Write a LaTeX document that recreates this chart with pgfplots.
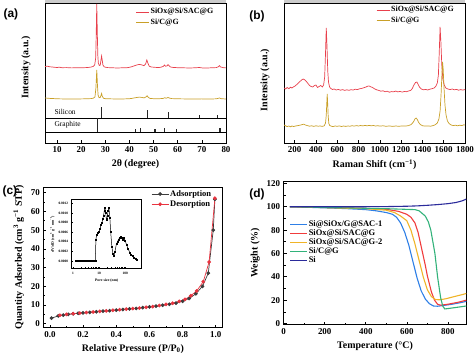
\documentclass[border=0pt]{standalone}
\usepackage{pgfplots}
\pgfplotsset{compat=1.18}
\usepackage{fontspec}
\setmainfont{Liberation Serif}
\newfontfamily\panelfont{Liberation Sans}
\definecolor{xred}{RGB}{232,64,76}
\definecolor{xyel}{RGB}{201,160,40}
\definecolor{dblue}{RGB}{46,127,230}
\definecolor{dred}{RGB}{240,60,60}
\definecolor{dorange}{RGB}{240,180,40}
\definecolor{dgreen}{RGB}{50,178,122}
\definecolor{dnavy}{RGB}{43,43,155}
\definecolor{cblack}{RGB}{60,60,60}
\definecolor{cred}{RGB}{232,51,63}
\pgfplotsset{
  myax/.style={scale only axis, anchor=south west,
    axis line style={line width=0.8bp},
    tick align=inside, major tick length=3bp, minor tick length=1.8bp,
    tick style={line width=0.6bp, black},
    xtick pos=bottom, ytick pos=left,
    /pgf/number format/assume math mode=true,
    /pgf/number format/1000 sep={},
    tick label style={font=\bfseries\fontsize{9}{9}\selectfont},
    label style={font=\bfseries\fontsize{10}{10}\selectfont},
  },
  shortleg/.style={legend image code/.code={\draw[##1] (0bp,0bp) -- (13bp,0bp);}},
}
\begin{document}
\begin{tikzpicture}
\path[use as bounding box] (0bp,0bp) rectangle (474bp,354bp);
\fill[gray!40] (45bp,351bp) rectangle (226bp,354bp);
\fill[gray!40] (284bp,351bp) rectangle (465bp,354bp);
% ---------------- (a) main
\begin{axis}[myax, at={(45bp,236bp)}, width=181bp, height=115bp,
  xmin=5, xmax=80, ymin=0, ymax=115, xtick=\empty, ytick=\empty,
  ylabel={Intensity (a.u.)},
  ylabel style={at={(axis description cs:-0.06,0.44)}, anchor=south},
  shortleg,
  legend style={at={(axis cs:42.5,111)}, anchor=north west, draw=none, fill=none,
    inner sep=0pt, row sep=1.5bp, nodes={inner sep=1.2bp},
    font=\bfseries\fontsize{8}{8}\selectfont},
  legend cell align=left]
\addplot[xred, line width=0.7bp] coordinates {
(5,51.5)(6,51.8)(7,51.2)(8,51)(9,50.7)(10,50.5)(11,50.8)(12,50.3)(14,50.4)(16,50.1)(18,50.3)(20,50.2)(22,50.4)(23,50.6)(24,50.9)(25,51.6)(25.6,53)(26,60)(26.2,80)(26.45,114)(26.7,82)(26.9,62)(27.1,55)(27.5,52.5)(27.9,53)(28.2,58)(28.45,62)(28.7,58)(29,53)(29.5,51.2)(30,50.8)(31,50.4)(33,50.2)(35,50)(37,50.2)(39,50.3)(40,50.7)(41,51.3)(42,52.2)(43,53)(44,53.6)(45,53.2)(46,52.3)(46.7,54)(47.2,58)(47.6,55)(48.2,51.8)(49,51)(50,50.8)(51,50.6)(52,50.4)(53,50.8)(54,51.6)(54.5,53)(55,51.8)(55.5,52)(56,53.4)(56.5,52)(57,51)(58,50.6)(60,50.3)(62,50.2)(65,50)(67,50.2)(69,50.5)(70,50.1)(72,50)(74,50.2)(76,50.4)(76.8,51.2)(77.3,52.3)(77.8,51)(79,50.3)(80,50.1)};
\addlegendentry{SiOx@Si/SAC@G}
\addplot[xyel, line width=0.7bp] coordinates {
(5,20)(6,19.8)(7,19.6)(8,19.5)(10,19.2)(12,19.1)(15,19)(18,19)(20,19.1)(22,19.2)(24,19.4)(25,19.8)(25.7,21)(26.1,30)(26.45,48)(26.75,32)(27,23)(27.4,20.3)(27.9,20.6)(28.2,22.5)(28.45,24.5)(28.7,22)(29.2,19.8)(30,19.3)(33,19.1)(36,19)(38,19.1)(40,19.3)(41,19.6)(42,20.1)(43,20.5)(44,20.9)(45,20.6)(46,20.1)(46.8,21)(47.3,22.3)(47.8,20.6)(48.5,19.6)(50,19.3)(52,19.2)(54,19.6)(54.6,20.3)(55.2,19.8)(56,20.5)(56.6,19.9)(57.5,19.4)(60,19.2)(65,19)(70,19.1)(74,19)(76,19.2)(77.3,20)(78,19.3)(80,19)};
\addlegendentry{Si/C@G}
\addplot[ycomb, black!85, line width=1.1bp, forget plot] coordinates {
(28.5,11)(47.4,8)(56.2,5.5)(69.2,3)(76.4,3)};
\node[anchor=west, font=\fontsize{7.5}{7.5}\selectfont] at (axis cs:7.5,6) {Silicon};
\end{axis}
% ---------------- (a) graphite
\begin{axis}[myax, at={(45bp,222bp)}, width=181bp, height=14bp,
  xmin=5, xmax=80, ymin=0, ymax=14, xtick=\empty, ytick=\empty]
\addplot[ycomb, black!85, line width=1.1bp] coordinates {
(26.6,14)(42.5,3)(44.5,4)(50.6,3)(54.6,4)(59.6,3)(77.5,4)};
\node[anchor=west, font=\fontsize{7.5}{7.5}\selectfont] at (axis cs:7.5,7.5) {Graphite};
\end{axis}
% ---------------- (a) bottom
\begin{axis}[myax, at={(45bp,211bp)}, width=181bp, height=11bp,
  xmin=5, xmax=80, ymin=0, ymax=1, xtick={10,20,...,80}, ytick=\empty,
  xlabel={2θ (degree)}]
\addplot[draw=none, forget plot] coordinates {(10,0.5)};
\end{axis}
\node[font=\panelfont\bfseries\fontsize{12}{12}\selectfont, anchor=west] at (0bp,340bp) {(a)};
% ---------------- (b)
\begin{axis}[myax, at={(284bp,211bp)}, width=181bp, height=140bp,
  xmin=100, xmax=1800, ymin=0, ymax=140, xtick={200,400,...,1800}, ytick=\empty,
  xlabel={Raman Shift (cm\textsuperscript{−1})},
  ylabel={Intensity (a.u.)},
  ylabel style={at={(axis description cs:-0.06,0.45)}, anchor=south},
  shortleg,
  legend style={at={(axis cs:965,138)}, anchor=north west, draw=none, fill=none,
    inner sep=0pt, row sep=1.5bp, nodes={inner sep=1.2bp},
    font=\bfseries\fontsize{8}{8}\selectfont},
  legend cell align=left]
\addplot[xred, line width=0.7bp] coordinates {
(100,55)(115,54)(130,55.5)(145,54.3)(160,55.8)(175,55)(190,56.2)(205,57)(220,58.5)(235,60)(250,61.5)(265,63)(280,64)(295,63.2)(310,61.5)(325,59.5)(340,57.5)(355,56.5)(370,56)(385,57.5)(400,58)(415,55.5)(430,56.5)(445,57.5)(460,56)(472,58)(482,66)(490,90)(497,115)(504,96)(511,72)(518,61)(528,56)(540,54.5)(555,53.5)(570,54)(590,53)(610,53.6)(630,52.8)(650,53.4)(670,52.6)(690,53.2)(710,52.7)(730,53.3)(750,53)(770,53.8)(790,53.4)(810,54.2)(830,54.6)(850,55.3)(870,56)(885,56.8)(900,57)(915,56.2)(930,55.6)(950,54.2)(970,53.2)(990,52.6)(1010,51.8)(1030,52.2)(1050,51.3)(1070,51.8)(1090,50.8)(1110,51.4)(1130,51.2)(1150,51.9)(1170,51.1)(1190,51.6)(1210,50.9)(1230,51.5)(1250,51.3)(1270,52)(1290,52.6)(1305,54.5)(1320,58)(1335,60.5)(1348,61)(1360,58.5)(1375,55.5)(1390,54)(1410,53.2)(1430,53.6)(1450,53)(1470,53.8)(1490,54.3)(1510,55)(1525,56.5)(1540,60)(1550,68)(1558,90)(1566,116)(1574,100)(1582,78)(1592,64)(1605,58)(1620,55)(1640,54)(1660,53.4)(1680,54)(1700,53.2)(1720,53.6)(1740,52.8)(1760,53.4)(1780,52.9)(1800,53.5)};
\addlegendentry{SiOx@Si/SAC@G}
\addplot[xyel, line width=0.7bp] coordinates {
(100,18)(115,17.2)(130,16.4)(145,17)(160,16.2)(175,17)(190,16.5)(210,17)(230,17.4)(250,17.8)(270,18.4)(285,18.8)(300,18)(320,17.4)(340,16.8)(360,17.2)(380,16.6)(400,17.2)(420,16.8)(440,17)(460,16.6)(478,17.2)(490,20)(497,28)(502,40)(506,49)(510,40)(515,27)(521,19.5)(530,17.4)(545,16.8)(560,16.4)(580,17)(600,16.7)(620,17.1)(640,16.5)(660,17)(680,16.6)(700,17)(720,16.8)(740,17.3)(760,16.9)(780,17.4)(800,17)(820,17.5)(840,17.1)(860,17.6)(880,17.2)(900,17.6)(920,17.2)(940,17.5)(960,17)(980,17.3)(1000,16.9)(1030,17.2)(1060,16.7)(1090,17.1)(1120,16.6)(1150,17)(1180,16.7)(1210,17.1)(1240,16.9)(1270,17.4)(1295,18.5)(1315,21)(1330,24)(1340,25)(1352,23.5)(1365,20.5)(1380,18.5)(1400,17.3)(1425,16.9)(1450,17.1)(1475,16.8)(1500,17.4)(1520,18.2)(1540,20)(1555,24)(1566,32)(1575,48)(1583,68)(1589,81)(1595,74)(1603,55)(1612,38)(1622,28)(1635,22)(1650,19.5)(1670,18)(1690,17.4)(1710,17.8)(1730,17.2)(1750,17.8)(1770,17.4)(1790,18.2)(1800,18)};
\addlegendentry{Si/C@G}
\end{axis}
\node[font=\panelfont\bfseries\fontsize{12}{12}\selectfont] at (257bp,338bp) {(b)};
% ---------------- (c)
\begin{axis}[myax, at={(43.3bp,26.3bp)}, width=179.4bp, height=140.7bp,
  xmin=-0.04, xmax=1.042, ymin=-2.1, ymax=73,
  xtick={0,0.2,...,1.0}, ytick={0,10,...,70},
  minor x tick num=1, minor y tick num=1,
  xticklabel style={/pgf/number format/.cd, fixed, fixed zerofill, precision=1},
  xlabel={Relative Pressure (P/P\textsubscript{0})},
  ylabel={Quantity Adsorbed (cm\textsuperscript{3} g\textsuperscript{−1} STP)},
  legend style={at={(axis cs:0.61,72)}, anchor=north west, draw=none, fill=none,
    inner sep=0pt, row sep=0.5bp, nodes={inner sep=1.2bp},
    font=\bfseries\fontsize{8.5}{8.5}\selectfont},
  legend cell align=left]
\addplot[cblack, line width=0.7bp, mark=*, mark size=1.5bp, mark options={fill=cblack}] coordinates {
(0.01,3.0)(0.05,4.2)(0.08,4.6)(0.11,5.0)(0.14,5.3)(0.17,5.6)(0.2,5.8)(0.24,6.1)(0.28,6.4)(0.32,6.7)(0.36,7.0)(0.4,7.3)(0.44,7.6)(0.48,7.9)(0.52,8.2)(0.56,8.6)(0.6,9.0)(0.64,9.4)(0.68,9.9)(0.72,10.4)(0.76,11.0)(0.8,12.0)(0.84,13.5)(0.88,16.0)(0.92,20.0)(0.955,27.0)(0.985,50.0)(0.995,66.5)};
\addlegendentry{Adsorption}
\addplot[cred, line width=0.7bp, mark=*, mark size=1.5bp, mark options={fill=cred}] coordinates {
(0.995,67)(0.96,33)(0.925,22.5)(0.885,17.5)(0.85,15)(0.815,13)(0.78,12)(0.74,11)(0.7,10.3)(0.66,9.7)(0.62,9.2)(0.58,8.8)(0.54,8.4)(0.5,8.1)(0.46,7.8)(0.42,7.5)(0.38,7.2)(0.34,6.9)(0.3,6.6)(0.26,6.3)(0.22,6.0)(0.18,5.7)(0.14,5.4)(0.1,5.0)(0.06,4.5)};
\addlegendentry{Desorption}
\end{axis}
% inset
\begin{axis}[myax, at={(71.7bp,85.3bp)}, width=70bp, height=69bp,
  axis background/.style={fill=white},
  axis line style={line width=0.5bp}, major tick length=1.5bp, tick style={line width=0.4bp},
  xmode=log, xmin=0.9, xmax=430, ymin=-0.00016, ymax=0.001275,
  xtick={1,10,100}, xticklabels={1,10,100},
  ytick={0,0.0002,...,0.0012}, scaled y ticks=false,
  yticklabel style={/pgf/number format/.cd, fixed, fixed zerofill, precision=4},
  tick label style={font=\bfseries\fontsize{3.5}{3.5}\selectfont},
  label style={font=\bfseries\fontsize{3.8}{3.8}\selectfont},
  xlabel={Pore size (nm)}, ylabel={dV/dD (cm\textsuperscript{3} g\textsuperscript{−1} nm\textsuperscript{−1})},
  xlabel style={yshift=3bp}, ylabel style={yshift=-3bp}]
\addplot[black, line width=0.5bp, mark=square*, mark size=0.5bp] coordinates {
(1.3,0)(1.45,0)(1.6,0)(1.75,0)(1.9,0)(2.1,0)(2.3,0)(2.5,0)(2.75,0)(3,0)(3.3,0)(3.6,0)(3.9,0)(4.3,0)(4.7,0)(5.1,0)(5.6,0)(6.1,0)(6.6,0)(7.2,0)(7.6,0.00045)(8.2,0.00055)(9,0.00058)(10,0.0006)(11,0.00068)(12,0.00075)(13,0.0008)(14,0.00088)(15,0.00095)(16,0.00105)(17,0.0011)(18,0.001)(19,0.00088)(20,0.00085)(21,0.00095)(22.5,0.00105)(24,0.0011)(26,0.0009)(28,0.0006)(31,0.0003)(34,0.00015)(37,0.0001)(41,0.0002)(46,0.00035)(51,0.0004)(56,0.00045)(62,0.00048)(68,0.0005)(75,0.00049)(82,0.00045)(90,0.00048)(100,0.00042)(115,0.00033)(130,0.00025)(150,0.00018)(170,0.00013)(190,0.0001)(220,0.00007)(260,0.00005)(290,0.00003)};
\end{axis}
\node[font=\panelfont\bfseries\fontsize{12}{12}\selectfont, anchor=west] at (-1bp,163bp) {(c)};
% ---------------- (d)
\begin{axis}[myax, at={(283.7bp,29.3bp)}, width=182.6bp, height=143.7bp,
  xmin=0, xmax=890, ymin=-1, ymax=122,
  xtick={0,200,...,800}, ytick={0,20,...,120},
  minor x tick num=1, minor y tick num=1,
  xlabel={Temperature (°C)}, ylabel={Weight (\%)},
  legend style={at={(axis cs:28,89)}, anchor=north west, draw=none, fill=none,
    inner sep=0pt, row sep=-0.3bp, nodes={inner sep=1bp},
    font=\bfseries\fontsize{8.5}{8.5}\selectfont},
  legend cell align=left]
\addplot[dblue, line width=1.1bp] coordinates {
(30,100)(100,99.6)(200,99)(300,98.4)(400,97.5)(450,96.5)(500,95)(530,93.5)(550,91)(570,86)(590,78)(610,67)(630,53)(650,39)(670,28)(690,21)(710,17)(730,15)(750,14.8)(780,15.5)(820,16.5)(860,17.8)(890,19)};
\addlegendentry{Si@SiOx/G@SAC-1}
\addplot[dred, line width=1.1bp] coordinates {
(30,100)(200,99.4)(400,98.6)(500,97.8)(560,96)(600,93.5)(620,91)(640,86)(655,78)(670,66)(680,58)(690,50)(700,41)(710,34)(720,27)(735,20)(750,16.5)(765,15.7)(800,16.5)(850,18.2)(890,20)};
\addlegendentry{SiOx@Si/SAC@G}
\addplot[dorange, line width=1.1bp] coordinates {
(30,100)(200,99.2)(400,98.3)(500,97)(540,95)(570,92)(600,88)(620,80)(640,68)(660,54)(680,40)(700,29)(720,23)(740,20.5)(760,20.3)(790,21.2)(830,23)(860,24.3)(890,25.7)};
\addlegendentry{SiOx@Si/SAC@G-2}
\addplot[dgreen, line width=1.1bp] coordinates {
(30,100)(300,99)(500,98.3)(640,97.5)(660,96.5)(690,92)(705,87)(717,80)(727,70)(737,60)(750,40)(765,22)(775,15)(785,12.5)(800,12.8)(850,14)(890,15)};
\addlegendentry{Si/C@G}
\addplot[dnavy, line width=1.1bp] coordinates {
(30,100)(200,100)(400,100)(500,100.1)(600,100.4)(650,100.7)(700,101.2)(750,101.8)(800,102.6)(840,103.6)(870,105)(890,106.5)};
\addlegendentry{Si}
\end{axis}
\node[font=\panelfont\bfseries\fontsize{12}{12}\selectfont] at (257bp,159.5bp) {(d)};
\end{tikzpicture}
\end{document}
